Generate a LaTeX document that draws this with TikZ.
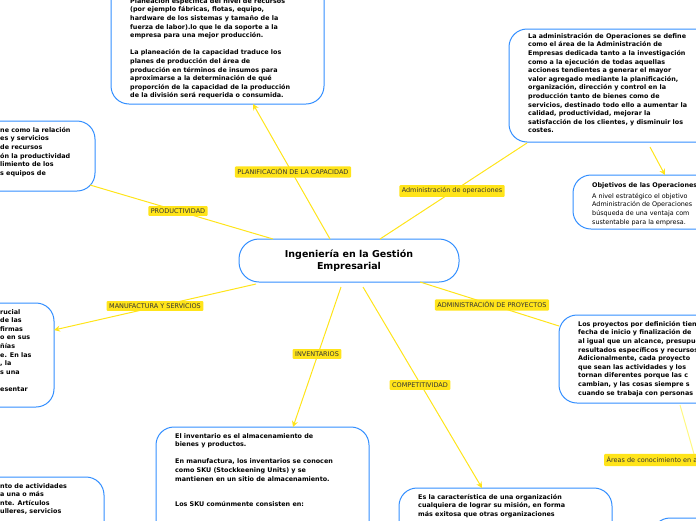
\documentclass[tikz,border=0pt]{standalone}
\usepackage{fontspec}
\setmainfont{DejaVu Sans}
\usetikzlibrary{arrows.meta}
\begin{document}
\begin{tikzpicture}[x=1pt,y=-1pt,
 box/.style={draw=blue!55!cyan!80!white,line width=1pt,rounded corners=18pt,fill=white},
 txt/.style={anchor=north west,align=left,font=\fontsize{6.4}{8.6}\selectfont\bfseries,inner sep=0pt},
 ntxt/.style={anchor=north west,align=left,font=\fontsize{6.4}{8.6}\selectfont,inner sep=0pt},
 lbl/.style={fill={rgb,255:red,255;green,228;blue,26},rounded corners=1pt,font=\fontsize{6.5}{8}\selectfont,inner sep=2.5pt,text=black!80},
 con/.style={draw={rgb,255:red,255;green,228;blue,26},line width=1pt},
 arr/.style={con,-{Stealth[length=6pt,width=6pt]}}]
\useasboundingbox (0,0) rectangle (696,520);
\clip (0,0) rectangle (696,520);
% boxes
\draw[box] (111,-30) rectangle (324,104);
\node[txt] at (130,-2) {Planeación específica del nivel de recursos\\(por ejemplo fábricas, flotas, equipo,\\hardware de los sistemas y tamaño de la\\fuerza de labor).lo que le da soporte a la\\empresa para una mejor producción.\\[8.6pt]La planeación de la capacidad traduce los\\planes de producción del área de\\producción en términos de insumos para\\aproximarse a la determinación de qué\\proporción de la capacidad de la producción\\de la división será requerida o consumida.};
\draw[box] (-150,121) rectangle (95,191);
\node[txt] at (-100,127) {\hspace*{100pt}ne como la relación\\\hspace*{100pt}es y servicios\\\hspace*{100pt}de recursos\\\hspace*{100pt}ón la productividad\\\hspace*{100pt}limiento de los\\\hspace*{100pt}s equipos de};
\draw[box] (509,29) rectangle (760,142);
\node[txt] at (528,33) {La administración de Operaciones se define\\como el área de la Administración de\\Empresas dedicada tanto a la investigación\\como a la ejecución de todas aquellas\\acciones tendientes a generar el mayor\\valor agregado mediante la planificación,\\organización, dirección y control en la\\producción tanto de bienes como de\\servicios, destinado todo ello a aumentar la\\calidad, productividad, mejorar la\\satisfacción de los clientes, y disminuir los\\costes.};
\draw[box] (573,175) rectangle (760,229);
\node[txt] at (592,182) {Objetivos de las Operaciones};
\node[ntxt] at (592,193) {A nivel estratégico el objetivo\\Administración de Operaciones\\búsqueda de una ventaja com\\sustentable para la empresa.};
\draw[box] (-150,303) rectangle (54,407);
\node[txt] at (-100,309) {\hspace*{100pt}rucial\\\hspace*{100pt}de las\\\hspace*{100pt}firmas\\\hspace*{100pt}o en sus\\\hspace*{100pt}ñías\\\hspace*{100pt}e. En las\\\hspace*{100pt}, la\\\hspace*{100pt}s una\\\hspace*{100pt}\\\hspace*{100pt}esentar};
\draw[box] (559,315) rectangle (760,403);
\node[txt] at (578,321) {Los proyectos por definición tienen\\fecha de inicio y finalización de\\al igual que un alcance, presupuesto\\resultados específicos y recursos.\\Adicionalmente, cada proyecto\\que sean las actividades y los\\tornan diferentes porque las c\\cambian, y las cosas siempre s\\cuando se trabaja con personas};
\draw[box] (156,427) rectangle (369,600);
\node[txt] at (175,433) {El inventario es el almacenamiento de\\bienes y productos.\\[8.6pt]En manufactura, los inventarios se conocen\\como SKU (Stockkeening Units) y se\\mantienen en un sitio de almacenamiento.\\[8.6pt]\\Los SKU comúnmente consisten en:};
\draw[box] (-150,477) rectangle (104,600);
\node[txt] at (-100,483) {\hspace*{100pt}nto de actividades\\\hspace*{100pt}a una o más\\\hspace*{100pt}nte. Artículos\\\hspace*{100pt}ulleres, servicios};
\draw[box] (399,488) rectangle (612,600);
\node[txt] at (418,494) {Es la característica de una organización\\cualquiera de lograr su misión, en forma\\más exitosa que otras organizaciones};
\draw[box] (652,518) rectangle (760,600);
% center
\node[box,rounded corners=20pt,minimum width=220pt,minimum height=43pt,font=\fontsize{9.5}{11.5}\selectfont\bfseries,align=center] (c) at (349,260.5) {Ingeniería en la Gestión\\Empresarial};
% connector anchors
\coordinate (c1) at (330,239); \coordinate (t1) at (253,104);
\coordinate (c2) at (273,239); \coordinate (t2) at (90,185);
\coordinate (c3) at (380,239); \coordinate (t3) at (527,143);
\coordinate (s4) at (650,147); \coordinate (t4) at (665,175);
\coordinate (c5) at (256,284); \coordinate (t5) at (54,330);
\coordinate (c6) at (420,282); \coordinate (t6) at (559,326);
\coordinate (c7) at (341,287); \coordinate (t7) at (293,427);
\coordinate (c8) at (363,287); \coordinate (t8) at (482,488);
\coordinate (s9) at (680,405); \coordinate (t9) at (700,475);
\draw[arr] (c1)--(t1); \draw[con] (c2)--(t2); \draw[con] (c3)--(t3);
\draw[arr] (s4)--(t4); \draw[arr] (c5)--(t5); \draw[con] (c6)--(t6);
\draw[arr] (c7)--(t7); \draw[arr] (c8)--(t8);
\draw[con,draw=yellow!50] (s9)--(t9);
% labels
\node[lbl] (l1) at (293,172) {PLANIFICACIÓN DE LA CAPACIDAD};
\node[lbl] (l2) at (178,211) {PRODUCTIVIDAD};
\node[lbl] (l3) at (452,191) {Administración de operaciones};
\node[lbl] (l5) at (155,306) {MANUFACTURA Y SERVICIOS};
\node[lbl] (l6) at (492,305) {ADMINISTRACIÓN DE PROYECTOS};
\node[lbl] (l7) at (317,354) {INVENTARIOS};
\node[lbl] (l8) at (420,385) {COMPETITIVIDAD};
\node[lbl,anchor=west] (l9) at (604,460) {Áreas de conocimiento en administración de proyectos};
\end{tikzpicture}
\end{document}
